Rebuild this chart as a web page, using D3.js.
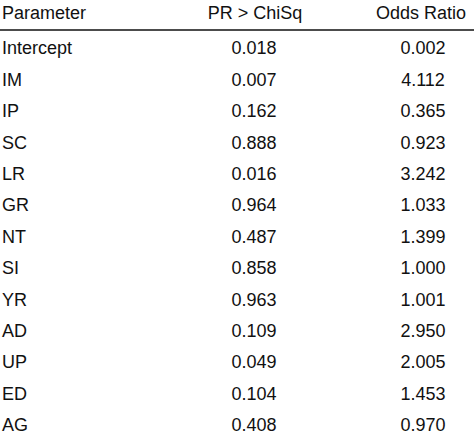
<!DOCTYPE html><html><head><meta charset="utf-8"><script src="https://d3js.org/d3.v7.min.js"></script>
<style>body{margin:0;background:#fff}</style></head><body><script>
const headers=["Parameter","PR > ChiSq","Odds Ratio"];
const parameters=["Intercept","IM","IP","SC","LR","GR","NT","SI","YR","AD","UP","ED","AG"];
const prChiSq=["0.018","0.007","0.162","0.888","0.016","0.964","0.487","0.858","0.963","0.109","0.049","0.104","0.408"];
const oddsRatio=["0.002","4.112","0.365","0.923","3.242","1.033","1.399","1.000","1.001","2.950","2.005","1.453","0.970"];
const W=474,H=439;
const svg=d3.select("body").append("svg").attr("width",W).attr("height",H);
const y=d3.scalePoint().domain(parameters).range([48,425]);
const font="Liberation Sans, Arial, sans-serif";
const g=svg.append("g").attr("font-family",font).attr("font-size",18).attr("fill","#111");
g.append("text").attr("x",2).attr("y",13).attr("dy","0.35em").text(headers[0]);
g.append("text").attr("x",255).attr("y",13).attr("dy","0.35em").attr("text-anchor","middle").text(headers[1]);
g.append("text").attr("x",376).attr("y",13).attr("dy","0.35em").text(headers[2]);
svg.append("line").attr("x1",0).attr("x2",W).attr("y1",30).attr("y2",30).attr("stroke","#111").attr("stroke-width",1.5);
parameters.forEach((p,i)=>{
 g.append("text").attr("x",2).attr("y",y(p)).attr("dy","0.35em").text(p);
 g.append("text").attr("x",254).attr("y",y(p)).attr("dy","0.35em").attr("text-anchor","middle").text(prChiSq[i]);
 g.append("text").attr("x",423).attr("y",y(p)).attr("dy","0.35em").attr("text-anchor","middle").text(oddsRatio[i]);
});
</script></body></html>
